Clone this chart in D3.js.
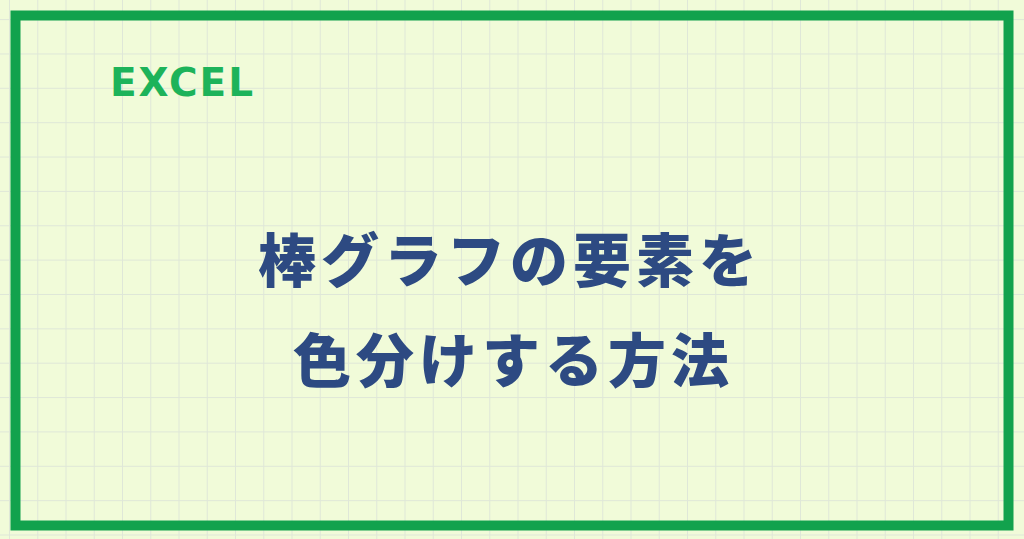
<!DOCTYPE html>
<html><head><meta charset="utf-8">
<script src="https://cdn.jsdelivr.net/npm/d3@7"></script>
<style>html,body{margin:0;padding:0;overflow:hidden;background:#f1fbd9;}</style>
</head><body>
<svg id="c" width="1024" height="539"></svg>
<script>
const tagLabel = "EXCEL";
const titleLines = ["棒グラフの要素を", "色分けする方法"];
const gridCols = d3.range(0, 37);
const gridRows = d3.range(0, 16);

const W = 1024, H = 539;
const svg = d3.select("#c");
svg.append("rect").attr("width", W).attr("height", H).attr("fill", "#f1fbd9");

const gx = d3.scaleLinear().domain([0, 1]).range([9.5, 37.75]);
const gy = d3.scaleLinear().domain([0, 1]).range([19.6, 53.96]);

svg.append("g").selectAll("line").data(gridCols).join("line")
  .attr("x1", d => gx(d)).attr("x2", d => gx(d)).attr("y1", 0).attr("y2", H)
  .attr("stroke", "#dfe7d8").attr("stroke-width", 1);
svg.append("g").selectAll("line").data(gridRows).join("line")
  .attr("y1", d => gy(d)).attr("y2", d => gy(d)).attr("x1", 0).attr("x2", W)
  .attr("stroke", "#dfe7d8").attr("stroke-width", 1);

svg.append("rect").attr("x", 15.5).attr("y", 15.5).attr("width", 993).attr("height", 510)
  .attr("fill", "none").attr("stroke", "#12a24d").attr("stroke-width", 10);

svg.append("text").text(tagLabel)
  .attr("x", 110).attr("y", 95.5)
  .attr("font-family", "'DejaVu Sans', sans-serif").attr("font-weight", 700)
  .attr("font-size", 39).attr("fill", "#1db35a")
  .attr("textLength", 143).attr("lengthAdjust", "spacing");

const tx = [258, 293], ty = [282, 382];
svg.append("g").selectAll("text").data(titleLines).join("text")
  .text(d => d)
  .attr("x", (d, i) => tx[i]).attr("y", (d, i) => ty[i])
  .attr("font-family", "'Noto Sans CJK JP', sans-serif").attr("font-weight", 900)
  .attr("font-size", 58).attr("letter-spacing", 5).attr("fill", "#2d4a82");
</script>
</body></html>
